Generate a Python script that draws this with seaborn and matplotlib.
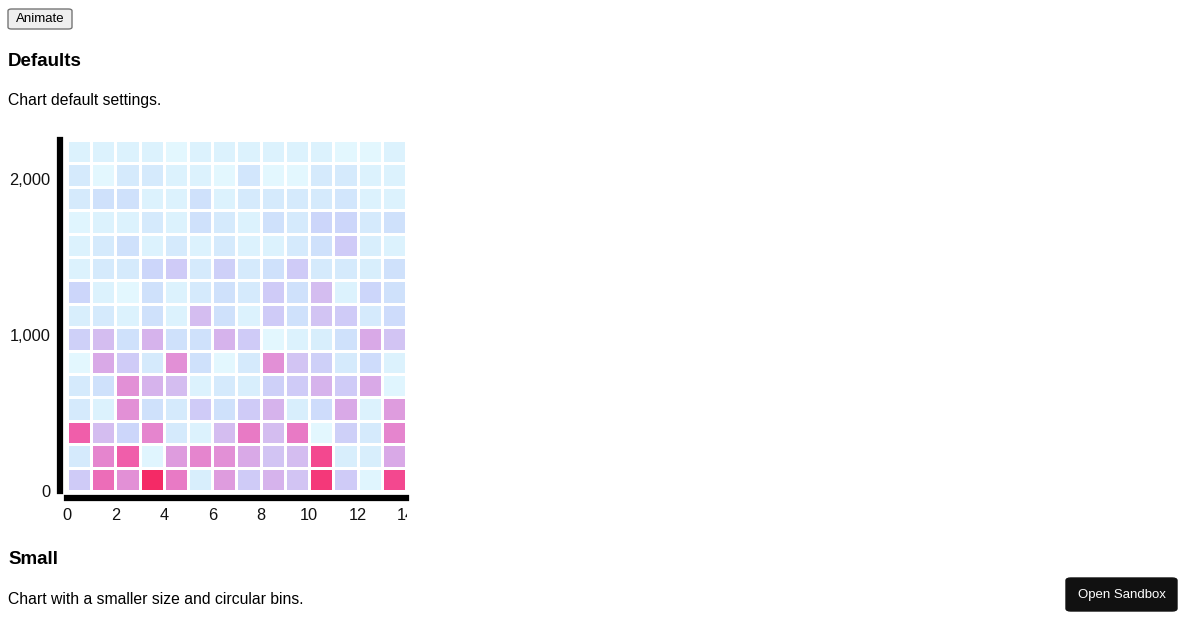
import numpy as np
import pandas as pd
import matplotlib
matplotlib.use("Agg")
import matplotlib.pyplot as plt
from matplotlib.colors import LinearSegmentedColormap
from matplotlib.transforms import Bbox, TransformedBbox
from matplotlib.patches import FancyBboxPatch
import seaborn as sns

# ---- data: bin intensities (x bins 0..13, y bins of 150 from 0 upward) ----
x_bins = list(range(14))
y_bin_size = 150
row_0 = [5, 9.5, 8, 12, 9, 1.5, 7.5, 5, 6.5, 5.5, 11.5, 5, 0.5, 11]
row_1 = [2, 8.5, 10, 0.5, 7.5, 8.5, 8, 7, 5.5, 6, 11, 1.5, 1.5, 7]
row_2 = [10, 6, 4, 8.5, 2, 1, 6, 9, 6, 9, 0, 4.5, 2, 8.5]
row_3 = [2, 1, 8, 3, 2, 5, 3, 5, 6.5, 1.5, 3.5, 7, 1, 7.5]
row_4 = [2, 3, 8, 6.5, 6, 1, 2, 1.5, 4.5, 5, 6.5, 5, 7, 0.5]
row_5 = [0, 7, 5, 2, 8, 3, 0, 2, 8, 5.5, 4.5, 2, 3.5, 1]
row_6 = [4.5, 6, 3, 6.5, 3, 3, 6.5, 5, 0, 1, 1.5, 3, 7, 5.5]
row_7 = [1.5, 2, 1, 3, 1, 6, 3, 1, 5, 3, 5.5, 5, 2, 3.5]
row_8 = [4, 1, 0, 3, 1, 2, 3, 2, 5, 3, 6, 1, 4, 3]
row_9 = [1, 2, 2, 4, 5, 2, 4.5, 2, 3, 5, 2, 2, 1.5, 3]
row_10 = [1, 2, 3, 1, 2, 1, 2, 1, 1, 2, 3, 5, 1.5, 1]
row_11 = [0.5, 1, 1, 2, 1, 3, 2, 1, 3, 2, 4, 4, 2, 3]
row_12 = [2, 3, 3, 1, 1, 3, 1, 2, 2, 2, 2, 2.5, 1, 1]
row_13 = [2, 0, 2, 2, 1, 1, 0, 2.5, 0, 0, 2, 2, 1, 1]
row_14 = [1, 1, 1, 1, 0, 1, 1, 1, 1, 1, 1, 0, 0, 1]
rows = [row_0, row_1, row_2, row_3, row_4, row_5, row_6, row_7,
        row_8, row_9, row_10, row_11, row_12, row_13, row_14]
y_ticks = [0, 1000, 2000]
x_ticks = [0, 2, 4, 6, 8, 10, 12, 14]

colors = ["#e3f7fe", "#dcf2fd", "#d5eafc", "#cfe1fb", "#ccd6fa", "#cfcbf7",
          "#d4bdf0", "#d9a9e7", "#e290d6", "#e87bc6", "#f05fab", "#f3488f",
          "#f42a66"]
cmap = LinearSegmentedColormap.from_list("bins", colors)

df = pd.DataFrame(rows, index=[i * y_bin_size for i in range(len(rows))],
                  columns=x_bins)

plt.rcParams["font.family"] = ["Liberation Sans", "DejaVu Sans"]
fig = plt.figure(figsize=(12, 6.3), dpi=100)
W, H = 1200, 630

def px(x0, y0, x1, y1):
    return [x0 / W, 1 - y1 / H, (x1 - x0) / W, (y1 - y0) / H]

ax = fig.add_axes(px(67, 140, 406, 491))
sns.heatmap(df, ax=ax, cmap=cmap, vmin=0, vmax=12, cbar=False,
            linewidths=0.9, linecolor="white", square=False)
ax.invert_yaxis()
ax.set_xlabel("")
ax.set_ylabel("")
ax.set_xticks(x_ticks)
ax.set_xticklabels([str(v) for v in x_ticks])
ax.set_yticks([v / y_bin_size for v in y_ticks])
ax.set_yticklabels([f"{v:,}" for v in y_ticks], rotation=0)
ax.tick_params(axis="both", length=0, labelsize=11.8, colors="#111111")
ax.tick_params(axis="x", pad=7)
ax.tick_params(axis="y", pad=7)
for side in ["left", "bottom"]:
    ax.spines[side].set_visible(True)
    ax.spines[side].set_linewidth(4.5)
    ax.spines[side].set_color("black")
    ax.spines[side].set_position(("outward", 5))
for side in ["top", "right"]:
    ax.spines[side].set_visible(False)

# page texts
fig.text(8 / W, 1 - 61 / H, "Defaults", fontsize=13.5, fontweight="bold",
         va="center", ha="left")
fig.text(8 / W, 1 - 100 / H, "Chart default settings.", fontsize=11.3,
         va="center", ha="left")
fig.text(8 / W, 1 - 560 / H, "Small", fontsize=13.5, fontweight="bold",
         va="center", ha="left")
fig.text(8 / W, 1 - 600 / H, "Chart with a smaller size and circular bins.",
         fontsize=11.3, va="center", ha="left")

# buttons
b1 = FancyBboxPatch((8 / W, 1 - 29 / H), 64 / W, 20 / H,
                    boxstyle="round,pad=0,rounding_size=0.003",
                    transform=fig.transFigure, facecolor="#efefef",
                    edgecolor="#767676", linewidth=1)
fig.patches.append(b1)
fig.text(40 / W, 1 - 19.5 / H, "Animate", fontsize=9.5, ha="center", va="center")
b2 = FancyBboxPatch((1066 / W, 1 - 611 / H), 111 / W, 33 / H,
                    boxstyle="round,pad=0,rounding_size=0.004",
                    transform=fig.transFigure, facecolor="#111111",
                    edgecolor="#111111", linewidth=1)
fig.patches.append(b2)
fig.text(1121.5 / W, 1 - 595 / H, "Open Sandbox", fontsize=9.5,
         color="white", ha="center", va="center")

fig.canvas.draw()
clip = TransformedBbox(Bbox([[0, 0], [407 / W, 1]]), fig.transFigure)
for lab in ax.get_xticklabels():
    lab.set_clip_on(True)
    lab.set_clip_box(clip)

fig.savefig("out.png", dpi=100)
